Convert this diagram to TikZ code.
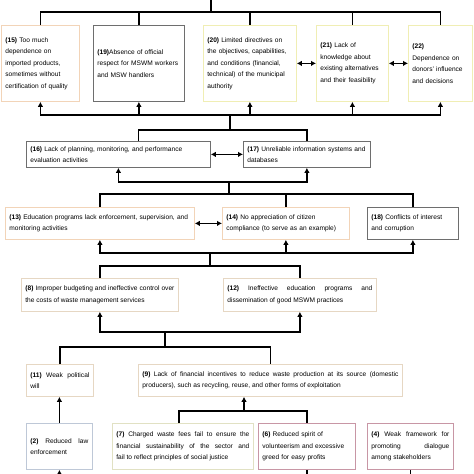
\documentclass[tikz,border=0pt]{standalone}
\usepackage{fontspec}
\setmainfont{Liberation Sans}
\usetikzlibrary{arrows.meta}

\definecolor{bdpeach}{RGB}{242,212,184}
\definecolor{bdgray}{RGB}{110,110,110}
\definecolor{bdyellow}{RGB}{240,238,180}
\definecolor{bdtan}{RGB}{230,215,195}
\definecolor{bdblue}{RGB}{190,200,215}
\definecolor{bdolive}{RGB}{225,225,195}
\definecolor{bdmauve}{RGB}{200,150,165}

\begin{document}
\begin{tikzpicture}[
    x=1pt, y=-1pt,
    cause/.style={draw, line width=0.8pt, anchor=north west, align=left, inner xsep=4pt, inner ysep=1pt, font=\fontsize{6.6}{11.5}\selectfont},
    just/.style={cause, align=justify},
    line/.style={line width=1.6pt},
    arrow/.style={line, -{Latex[length=5pt, width=5.5pt]}},
    darrow/.style={line, {Latex[length=5pt, width=5.5pt]}-{Latex[length=5pt, width=5.5pt]}}
  ]
    \useasboundingbox (0,0) rectangle (474,474);

    \node[cause, draw=bdpeach, text width=70pt, minimum height=76pt] (n15) at (1,25) {\textbf{(15)} Too much\\dependence on\\imported products,\\sometimes without\\certification of quality};
    \node[cause, draw=bdgray, text width=83pt, minimum height=76pt] (n19) at (93,25) {\textbf{(19)}Absence of official\\respect for MSWM workers\\and MSW handlers};
    \node[cause, draw=bdyellow, text width=85pt, minimum height=76pt] (n20) at (203,25) {\textbf{(20)} Limited directives on\\the objectives, capabilities,\\and conditions (financial,\\technical) of the municipal\\authority};
    \node[cause, draw=bdyellow, text width=64pt, minimum height=76pt] (n21) at (316,25) {\textbf{(21)} Lack of\\knowledge about\\existing alternatives\\and their feasibility};
    \node[cause, draw=bdyellow, text width=56pt, minimum height=76pt] (n22) at (408,25) {\textbf{(22)}\\Dependence on\\donors' influence\\and decisions};

    \node[cause, draw=bdgray, text width=176pt, minimum height=26pt] (n16) at (26,141) {\textbf{(16)} Lack of planning, monitoring, and performance\\evaluation activities};
    \node[cause, draw=bdgray, text width=119pt, minimum height=26pt] (n17) at (243,141) {\textbf{(17)} Unreliable information systems and\\databases};

    \node[cause, draw=bdpeach, text width=181pt, minimum height=32pt] (n13) at (5,207) {\textbf{(13)} Education programs lack enforcement, supervision, and\\monitoring activities};
    \node[cause, draw=bdpeach, text width=119pt, minimum height=32pt] (n14) at (222,207) {\textbf{(14)} No appreciation of citizen\\compliance (to serve as an example)};
    \node[cause, draw=bdgray, text width=83pt, minimum height=32pt] (n18) at (367,207) {\textbf{(18)} Conflicts of interest\\and corruption};

    \node[just, draw=bdtan, text width=149pt, minimum height=33pt] (n8) at (21,278) {\textbf{(8)} Improper budgeting and ineffective control over\linebreak the costs of waste management services};
    \node[just, draw=bdtan, text width=145pt, minimum height=33pt] (n12) at (223,278) {\textbf{(12)} Ineffective education programs and\linebreak dissemination of good MSWM practices};

    \node[just, draw=bdtan, text width=59pt, minimum height=32pt] (n11) at (26,364) {\textbf{(11)} Weak political\linebreak will};
    \node[just, draw=bdtan, text width=256pt, minimum height=32pt] (n9) at (138,364) {\textbf{(9)} Lack of financial incentives to reduce waste production at its source (domestic\linebreak producers), such as recycling, reuse, and other forms of exploitation};

    \node[just, draw=bdblue, text width=58pt, minimum height=46pt] (n2) at (26,423) {\textbf{(2)} Reduced law\linebreak enforcement};
    \node[just, draw=bdolive, text width=133pt, minimum height=46pt] (n7) at (112,423) {\textbf{(7)} Charged waste fees fail to ensure the\linebreak financial sustainability of the sector and\linebreak fail to reflect principles of social justice};
    \node[cause, draw=bdmauve, text width=89pt, minimum height=46pt] (n6) at (258,423) {\textbf{(6)} Reduced spirit of\\volunteerism and excessive\\greed for easy profits};
    \node[just, draw=bdmauve, text width=78pt, minimum height=46pt] (n4) at (367,423) {\textbf{(4)} Weak framework for\linebreak promoting dialogue\linebreak among stakeholders};

    \coordinate (top) at (211,0);
    \coordinate (t1) at (211,12);
    \draw[line] (top) -- (t1);
    \draw[line] (n15.north) |- (t1) -| (n22.north);
    \foreach \n in {n19,n20,n21}
      \draw[line] (\n.north) -- (\n.north |- t1);
    \draw[darrow] (n20) -- (n21);
    \draw[darrow] (n21) -- (n22);

    \coordinate (b1) at (230,115);
    \coordinate (b2) at (230,130);
    \draw[line] (b1) -- (b2);
    \foreach \n in {n15,n19,n20,n21,n22}
      \draw[arrow] (b1) -| (\n.south);
    \draw[line] ([xshift=20pt]n16.north) |- (b2) -| (n17.north);
    \draw[darrow] (n16) -- (n17);

    \coordinate (c1) at (229,182);
    \coordinate (c2) at (229,194);
    \draw[line] (c1) -- (c2);
    \foreach \n in {n16,n17}
      \draw[arrow] (c1) -| (\n.south);
    \draw[line] (n13.north) |- (c2) -| (n18.north);
    \draw[line] (n14.north) -- (n14.north |- c2);
    \draw[darrow] (n13) -- (n14);

    \coordinate (d1) at (210,253);
    \coordinate (d2) at (210,266);
    \draw[line] (d1) -- (d2);
    \foreach \n in {n13,n14,n18}
      \draw[arrow] (d1) -| (\n.south);
    \draw[line] (n8.north) |- (d2) -| (n12.north);

    \coordinate (e1) at (165,332);
    \coordinate (e2) at (165,347);
    \draw[line] (e1) -- (e2);
    \foreach \n in {n8,n12}
      \draw[arrow] (e1) -| (\n.south);
    \draw[line] (n11.north) |- (e2) -| (n9.north);

    \draw[arrow] (n2.north) -- (n2.north |- n11.south);
    \coordinate (f1) at (244,411);
    \draw[arrow] (f1) -- (f1 |- n9.south);
    \draw[line] ([xshift=-4pt]n7.north) |- (f1) -| (n6.north);

    \coordinate (bot) at (0,474);
    \draw[arrow] (n2.south |- bot) -- (n2.south);
    \draw[line] (n6.south) -- (n6.south |- bot);
    \draw[line] (n4.south) -- (n4.south |- bot);
  \end{tikzpicture}
\end{document}
